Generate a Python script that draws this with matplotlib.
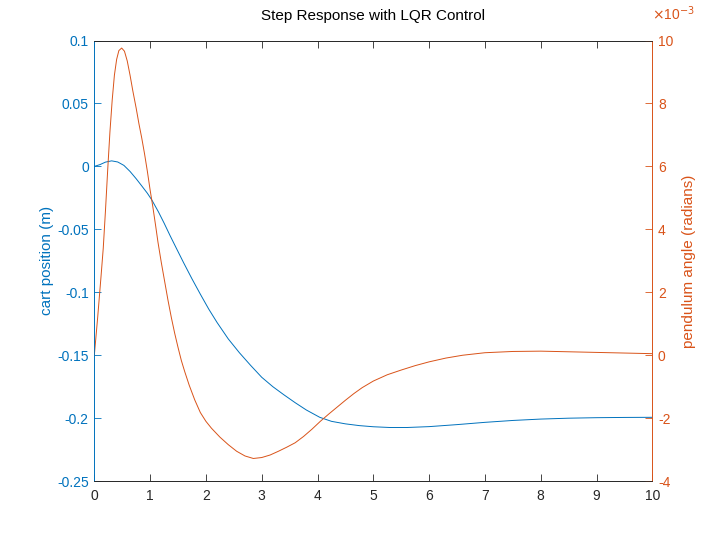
import matplotlib
matplotlib.use("Agg")
import matplotlib.pyplot as plt
from matplotlib.ticker import FuncFormatter

plt.rcParams['font.family'] = ['Liberation Sans', 'DejaVu Sans']
plt.rcParams['axes.unicode_minus'] = False

#%% values
cart_t = [0, 0.1, 0.2, 0.31, 0.42, 0.53, 0.64, 0.75, 0.85, 0.95, 1.03, 1.15,
          1.25, 1.36, 1.47, 1.6, 1.75, 1.9, 2.05, 2.2, 2.4, 2.6, 2.8, 3.0, 3.2,
          3.4, 3.6, 3.8, 4.04, 4.25, 4.5, 4.75, 5.0, 5.3, 5.6, 6.0, 6.5, 7.0,
          7.5, 8.0, 8.5, 9.0, 9.5, 10]
cart_x = [0, 0.0014, 0.0034, 0.0044, 0.0035, 0.0008, -0.004, -0.0098, -0.0155,
          -0.0213, -0.0266, -0.0362, -0.045, -0.0552, -0.065, -0.0765, -0.0893,
          -0.1015, -0.1133, -0.124, -0.137, -0.148, -0.158, -0.1675, -0.175,
          -0.1815, -0.1877, -0.1935, -0.1993, -0.2025, -0.2045, -0.2059,
          -0.2068, -0.2074, -0.2074, -0.2067, -0.2051, -0.2033, -0.2018,
          -0.2007, -0.2, -0.1996, -0.1994, -0.1993]

pend_t = [0, 0.06, 0.12, 0.16, 0.2, 0.24, 0.28, 0.32, 0.36, 0.4, 0.44, 0.49,
          0.54, 0.59, 0.64, 0.69, 0.75, 0.8, 0.85, 0.9, 0.95, 1.0, 1.05, 1.1,
          1.14, 1.2, 1.26, 1.32, 1.38, 1.44, 1.5, 1.56, 1.62, 1.7, 1.8, 1.9,
          2.0, 2.1, 2.25, 2.4, 2.55, 2.7, 2.85, 3.0, 3.15, 3.3, 3.45, 3.6, 3.75,
          3.9, 4.05, 4.2, 4.35, 4.5, 4.65, 4.8, 5.0, 5.25, 5.5, 5.75, 6.0, 6.3,
          6.6, 7.0, 7.5, 8.0, 8.5, 9.0, 9.5, 10]
# pendulum angle in units of 1e-3 rad
pend_mrad = [0, 1.2, 2.5, 3.4, 4.6, 5.9, 7.1, 8.1, 8.9, 9.4, 9.68, 9.76, 9.66,
             9.35, 8.9, 8.4, 7.85, 7.35, 6.9, 6.4, 5.85, 5.25, 4.7, 4.1, 3.6,
             2.95, 2.35, 1.75, 1.2, 0.7, 0.25, -0.17, -0.52, -0.95, -1.42,
             -1.82, -2.1, -2.32, -2.6, -2.84, -3.05, -3.2, -3.28, -3.25, -3.17,
             -3.05, -2.92, -2.78, -2.58, -2.35, -2.1, -1.87, -1.65, -1.43,
             -1.22, -1.03, -0.82, -0.62, -0.47, -0.33, -0.21, -0.09, 0.0, 0.08,
             0.12, 0.13, 0.11, 0.09, 0.07, 0.05]

blue = '#0072BD'
orange = '#D95319'
gray = '#262626'

fig = plt.figure(figsize=(7.2, 5.4), dpi=100)
ax = fig.add_axes([0.131, 0.109, 0.775, 0.816])
ax2 = ax.twinx()

ax.plot(cart_t, cart_x, color=blue, lw=0.7)
ax2.plot(pend_t, [v * 1e-3 for v in pend_mrad], color=orange, lw=0.7)

ax.set_xlim(0, 10)
ax.set_ylim(-0.25, 0.1)
ax2.set_ylim(-4e-3, 10e-3)
ax.set_xticks(range(0, 11))
ax.set_yticks([0.1, 0.05, 0, -0.05, -0.1, -0.15, -0.2, -0.25])
ax2.set_yticks([i * 1e-3 for i in range(-4, 11, 2)])
ax.yaxis.set_major_formatter(FuncFormatter(lambda v, p: '%g' % round(v, 4)))
ax2.yaxis.set_major_formatter(FuncFormatter(lambda v, p: '%g' % round(v * 1e3, 4)))

# matlab-ish axes styling
for a in (ax, ax2):
    a.spines['top'].set_color(gray)
    a.spines['bottom'].set_color(gray)
    a.spines['left'].set_color(blue)
    a.spines['right'].set_color(orange)
    for s in a.spines.values():
        s.set_linewidth(0.6)

ax.tick_params(axis='x', direction='in', top=True, length=5, width=0.6,
               colors=gray, labelsize=10, pad=6)
ax.tick_params(axis='y', direction='in', length=5, width=0.6,
               colors=blue, labelsize=10, pad=4)
ax2.tick_params(axis='y', direction='in', length=5, width=0.6,
                colors=orange, labelsize=10, pad=4)

ax.set_ylabel('cart position (m)', color=blue, fontsize=11, labelpad=2)
ax2.set_ylabel('pendulum angle (radians)', color=orange, fontsize=11, labelpad=6)
ax.set_title('Step Response with LQR Control', fontsize=11, color='black', pad=15)
ax2.text(1.0, 1.04, r'$\times$10$^{-3}$', transform=ax2.transAxes,
         color=orange, fontsize=10, ha='left', va='bottom')

plt.savefig('out.png', dpi=100)
